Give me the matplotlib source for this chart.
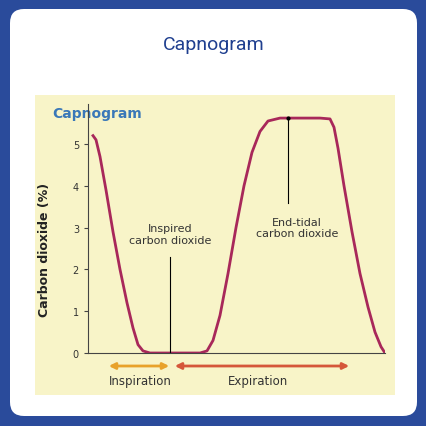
import matplotlib
matplotlib.use("Agg")
import matplotlib.pyplot as plt
from matplotlib.patches import FancyBboxPatch, Rectangle

# curve (time in arbitrary units, CO2 in %)
time = [93, 96, 100, 106, 113, 120, 127, 133, 138, 143, 150, 170, 200, 207, 213, 220,
        228, 236, 244, 252, 260, 268, 280, 300, 320, 330, 334, 338, 344, 352, 360,
        368, 375, 381, 385]
co2 = [5.2, 5.1, 4.7, 3.9, 2.9, 2.0, 1.2, 0.6, 0.2, 0.05, 0.0, 0.0, 0.0, 0.05, 0.3,
       0.9, 1.9, 3.0, 4.0, 4.8, 5.3, 5.55, 5.62, 5.62, 5.62, 5.6, 5.4, 4.9, 4.0,
       2.9, 1.9, 1.1, 0.5, 0.15, 0.0]
yticks = [0, 1, 2, 3, 4, 5]

W = 427
fig = plt.figure(figsize=(W / 100, W / 100), dpi=100)
fig.patch.set_facecolor("#2a4b9b")

bg = fig.add_axes([0, 0, 1, 1])
bg.set_xlim(0, W)
bg.set_ylim(W, 0)
bg.axis("off")
bg.add_patch(FancyBboxPatch((10, 10), W - 20, W - 20, boxstyle="round,pad=0,rounding_size=14",
                            fc="white", ec="none"))
bg.add_patch(Rectangle((35, 96), 360, 300, fc="#f8f4c8", ec="none"))
bg.text(W / 2, 45, "Capnogram", ha="center", va="center", fontsize=14, color="#1f3f8f",
        family="Roboto", fontstretch="condensed")
bg.text(52, 114, "Capnogram", ha="left", va="center", fontsize=10, color="#3a78b8", fontweight="bold")
bg.text(45, 250, "Carbon dioxide (%)", rotation=90, ha="center", va="center", fontsize=9,
        fontweight="bold", color="#222222")

# phase arrows
bg.annotate("", xy=(106, 367), xytext=(172, 367),
            arrowprops=dict(arrowstyle="<|-|>", color="#e8a22a", lw=2, mutation_scale=9))
bg.annotate("", xy=(172, 367), xytext=(352, 367),
            arrowprops=dict(arrowstyle="<|-|>", color="#d5573a", lw=2, mutation_scale=9))
bg.text(140, 382, "Inspiration", ha="center", va="center", fontsize=8.5, color="#333333")
bg.text(258, 382, "Expiration", ha="center", va="center", fontsize=8.5, color="#333333")

ax = fig.add_axes([88 / W, (W - 354) / W, (385 - 88) / W, (354 - 105) / W])
ax.set_facecolor("none")
ax.set_xlim(88, 385)
ax.set_ylim(0, (354 - 105) / 41.8)
ax.plot(time, co2, color="#a8285a", lw=2)
ax.set_yticks(yticks)
ax.set_xticks([])
ax.tick_params(axis="y", labelsize=7, length=3, color="#444444", labelcolor="#333333")
for s in ["top", "right"]:
    ax.spines[s].set_visible(False)
for s in ["left", "bottom"]:
    ax.spines[s].set_color("#444444")
    ax.spines[s].set_linewidth(0.8)

ax.plot([170, 170], [0, 2.3], color="black", lw=0.8)
ax.text(170, 2.85, "Inspired\ncarbon dioxide", ha="center", va="center", fontsize=8, color="#333333")
ax.plot([288, 288], [3.6, 5.62], color="black", lw=0.8)
ax.plot(288, 5.62, "o", color="black", ms=2)
ax.text(297, 3.0, "End-tidal\ncarbon dioxide", ha="center", va="center", fontsize=8, color="#333333")

fig.savefig("out.png", dpi=100, facecolor=fig.get_facecolor())
